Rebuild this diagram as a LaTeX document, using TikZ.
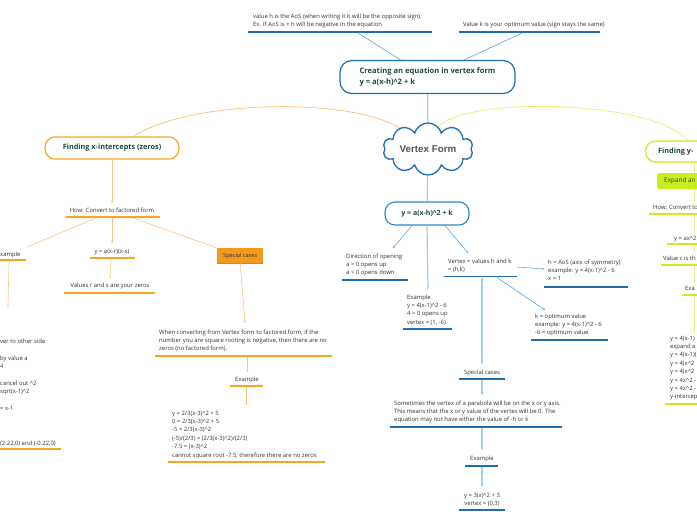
\documentclass[tikz,border=0pt]{standalone}
\usepackage{fontspec}
\setmainfont{Open Sans}
\newfontfamily\arialfont{Liberation Sans}
\usetikzlibrary{shapes.symbols,arrows.meta}
\newcommand\mycaret{\textasciicircum}
\definecolor{bl}{HTML}{1F6EB4}
\definecolor{blm}{HTML}{2E86C8}
\definecolor{blc}{HTML}{5BA8DA}
\definecolor{blv}{HTML}{A3CFEC}
\definecolor{orl}{HTML}{F6A623}
\definecolor{orc}{HTML}{F9C77E}
\definecolor{orf}{HTML}{F39A1E}
\definecolor{ord}{HTML}{E0840A}
\definecolor{lm}{HTML}{C8EE1E}
\definecolor{lmc}{HTML}{E2F37C}
\definecolor{tgreen}{HTML}{1E4B3B}
\definecolor{tgray}{HTML}{333333}
\definecolor{tvf}{HTML}{555555}
\begin{document}
\begin{tikzpicture}[x=1pt,y=-1pt,
  txt/.style={font=\fontsize{5.9}{8.4}\selectfont, text=tgray, align=left, inner sep=0pt, anchor=base west},
  ctxt/.style={txt, align=center, anchor=base},
  uline/.style={line width=1.6pt},
  link/.style={line width=0.6pt},
  conn/.style={line width=0.6pt, -{Stealth[length=2pt,width=2pt]}},
  vconn/.style={line width=1.2pt, blv},
  title/.style={draw, line width=1.2pt, fill=white, text=tgreen, font=\bfseries\fontsize{7.3}{8}\selectfont, inner sep=0pt},
]
\useasboundingbox (0,0) rectangle (697,520);
\fill[white] (0,0) rectangle (697,520);

% ---------- main curves
\coordinate (fxT) at (133,137);
\coordinate (vfL) at (405,132);
\coordinate (vfR) at (437,128);
\coordinate (fyT) at (688,141);
\draw[orc, line width=0.8pt] (fxT) .. controls (185,100) and (360,95) .. (vfL);
\draw[lmc, line width=0.8pt] (vfR) .. controls (465,95) and (655,100) .. (fyT);

% ---------- top
\node[title, draw=bl, minimum width=175pt, minimum height=33pt, rounded corners=12pt, align=left,
      font=\bfseries\fontsize{7.6}{11.5}\selectfont] (cen) at (427.5,77)
      {Creating an equation in vertex form\\y = a(x-h)\mycaret 2 + k};
\node[txt] (tl) at (253,26.9) {value h is the AoS (when writing it it will be the opposite sign).\\Ex. If AoS is + h will be negative in the equation};
\draw[uline, bl] (248,32) -- (432,32);
\coordinate (tlU) at (358,33);
\node[txt] (tr) at (463,26) {Value k is your optimum value (sign stays the same)};
\draw[uline, bl] (459,32) -- (600,32);
\coordinate (trU) at (522,33);
\draw[link, blc] (tlU) -- (cen);
\draw[link, blc] (trU) -- (cen);

% ---------- cloud
\node[cloud, draw=bl, line width=1.3pt, fill=white, cloud puffs=10, aspect=2.3,
      minimum width=90pt, minimum height=40pt, inner sep=0pt,
      font=\arialfont\bfseries\fontsize{9.8}{10}\selectfont, text=tvf] (vf) at (428,149) {Vertex Form};
\draw[vconn] (cen) -- (vf);

% ---------- y = a(x-h)^2 + k
\node[title, draw=blm, line width=1.1pt, minimum width=84pt, minimum height=23pt, rounded corners=10pt,
      font=\bfseries\fontsize{7}{8}\selectfont] (yvx) at (427,213.5) {y = a(x-h)\mycaret 2 + k};
\draw[vconn] (vf) -- (yvx);

\coordinate (dirT) at (393,248);
\coordinate (exT) at (428,289);
\coordinate (vtT) at (468,253);
\draw[conn, blc] ([xshift=-15pt]yvx.south) -- (dirT);
\draw[vconn, -{Stealth[length=2pt,width=2pt]}] (yvx.south) -- (exT);
\draw[conn, blc] ([xshift=18pt]yvx.south) -- (vtT);

\node[txt] (dir) at (346,274.8) {Direction of opening\\a > 0 opens up\\a < 0 opens down};
\draw[uline, bl] (342,280) -- (408,280);
\node[txt] (ex1) at (407,324.2) {Example\\y = 4(x-1)\mycaret 2 - 6\\4 > 0 opens up\\vertex = (1, -6)};
\draw[uline, bl] (403,329) -- (452,329);
\node[txt] (vt) at (448,271.4) {Vertex = values h and k\\= (h,k)};
\draw[uline, bl] (444,276.5) -- (517,276.5);
\coordinate (vtR) at (517,267);
\coordinate (vtU1) at (497,277.5);
\coordinate (vtU2) at (482,277.5);
\coordinate (hT) at (544,269);
\coordinate (kT) at (545,310);
\coordinate (sc2T) at (482,364);
\draw[conn, blc] (vtR) -- (hT);
\draw[conn, blc] (vtU1) -- (kT);
\draw[vconn, -{Stealth[length=2pt,width=2pt]}] (vtU2) -- (sc2T);

\node[txt] (h) at (548,280.8) {h = AoS (axis of symmetry)\\example: y = 4(x-1)\mycaret 2 - 6\\x = 1};
\draw[uline, bl] (544,287) -- (628,287);
\node[txt] (k) at (535,334.8) {k = optimum value\\example: y = 4(x-1)\mycaret 2 - 6\\-6 = optimum value};
\draw[uline, bl] (531,340) -- (608,340);

\node[ctxt] (sc2) at (482,374) {Special cases};
\draw[uline, bl] (459,379) -- (505,379);
\coordinate (sc2U) at (482,380);
\coordinate (stT) at (482,395);
\draw[vconn, -{Stealth[length=2pt,width=2pt]}] (sc2U) -- (stT);
\node[txt] (st) at (394,421.8) {Sometimes the vertex of a parabola will be on the x or y axis.\\This means that the x or y value of the vertex will be 0. The\\equation may not have either the value of -h or k};
\draw[uline, bl] (390,427) -- (562,427);
\coordinate (stU) at (482,428);
\coordinate (ex2T) at (482,450);
\draw[vconn, -{Stealth[length=2pt,width=2pt]}] (stU) -- (ex2T);
\node[ctxt] (ex2) at (482,460) {Example};
\draw[uline, bl] (465,466) -- (498,466);
\coordinate (ex2U) at (482,467);
\coordinate (ex3T) at (482,487);
\draw[vconn, -{Stealth[length=2pt,width=2pt]}] (ex2U) -- (ex3T);
\node[ctxt] (ex3) at (482,505.4) {y = 3(x)\mycaret 2 + 3\\vertex = (0,3)};
\draw[uline, bl] (459,510) -- (505,510);

% ---------- orange branch
\node[title, draw=orl, minimum width=134pt, minimum height=22pt, rounded corners=10pt] (fx) at (112,148) {Finding x-intercepts (zeros)};
\coordinate (howT) at (112,203);
\draw[conn, orc] (fx) -- (howT);
\node[ctxt] (how) at (112,212) {How: Convert to factored form};
\draw[uline, orl] (66,217) -- (160,217);
\coordinate (howL) at (96,218);
\coordinate (howM) at (112,218);
\coordinate (howR) at (133,218);
\coordinate (exLT) at (27,247);
\coordinate (yarT) at (112,243);
\draw[link, orc] (howL) -- (exLT);
\draw[conn, orc] (howM) -- (yarT);

\node[fill=orf, minimum width=46pt, minimum height=15pt, inner sep=0pt, anchor=north west,
      font=\fontsize{5.6}{6}\selectfont, text=tgray] (sc1) at (217,248) {Special cases};
\draw[ord, line width=1.2pt] (sc1.south west) -- (sc1.south east);
\draw[link, orc] (howR) -- (sc1.north west);

\node[txt, anchor=base west] (exL) at (0,256) {xample};
\draw[uline, orl] (0,260) -- (26,260);
\node[ctxt] (yar) at (112,253) {y = a(x-r)(x-s)};
\draw[uline, orl] (90,258) -- (135,258);
\coordinate (yarU) at (111,259);
\coordinate (valT) at (110,278);
\draw[conn, orc] (yarU) -- (valT);
\node[ctxt] (val) at (110,287) {Values r and s are your zeros};
\draw[uline, orl] (64,293) -- (155,293);

\coordinate (exLU) at (9,261);
\coordinate (exLbT) at (8,307);
\draw[conn, orc] (exLU) -- (exLbT);
\node[txt] (l1) at (0,343) {ver to other side};
\node[txt] (l2) at (0,360) {by value a};
\node[txt] (l3) at (0,368) {4};
\node[txt] (l4) at (0,385) {cancel out \mycaret 2};
\node[txt] (l5) at (0,393) {sqrt(x-1)\mycaret 2};
\node[txt] (l6) at (0,410) {= x-1};
\node[txt] (l7) at (0,445) {(2.22,0) and (-0.22,0)};
\draw[uline, orl] (0,449) -- (61,449);

\coordinate (cvT) at (245,323);
\draw[conn, orc] (sc1.south) -- (cvT);
\node[txt] (cv) at (159,350.8) {When converting from Vertex form to factored form, if the\\number you are square rooting is negative, then there are no\\zeros (no factored form).};
\draw[uline, orl] (155,356) -- (332,356);
\coordinate (cvU) at (247,357);
\coordinate (ex4T) at (247,372);
\draw[conn, orc] (cvU) -- (ex4T);
\node[ctxt] (ex4) at (247,381) {Example};
\draw[uline, orl] (230,386) -- (263,386);
\coordinate (ex4U) at (246,387);
\coordinate (ex5T) at (246,405);
\draw[conn, orc] (ex4U) -- (ex5T);
\node[txt] (ex5) at (172,457) {y = 2/3(x-3)\mycaret 2 + 5\\0 = 2/3(x-3)\mycaret 2 + 5\\-5 = 2/3(x-3)\mycaret 2\\(-5)/(2/3) = (2/3(x-3)\mycaret 2)/(2/3)\\-7.5 = (x-3)\mycaret 2\\cannot square root -7.5, therefore there are no zeros};
\draw[uline, orl] (168,462) -- (325,462);

% ---------- lime branch (cut at right edge)
\node[title, draw=lm, minimum width=130pt, minimum height=21pt, rounded corners=10pt, anchor=west] (fy) at (645,151.5) {};
\node[anchor=west, inner sep=0pt, text=tgreen, font=\bfseries\fontsize{7.3}{8}\selectfont] (fyt) at (658,152) {Finding y-};
\node[fill=lm, rounded corners=2pt, minimum width=110pt, minimum height=16pt, inner sep=0pt, anchor=north west] (exb) at (657,173) {};
\node[anchor=west, inner sep=0pt, text=tgray, font=\fontsize{6.4}{7}\selectfont] (exbt) at (664,181) {Expand an};
\coordinate (fyB) at (694,162);
\coordinate (exbT) at (694,173);
\draw[link, lmc] (fyB) -- (exbT);
\coordinate (exbB) at (694,189);
\coordinate (how2T) at (694,201);
\draw[link, lmc] (exbB) -- (how2T);
\node[txt] (how2) at (653,209) {How: Convert to};
\draw[uline, lm] (649,214) -- (697,214);
\coordinate (how2U) at (694,215);
\coordinate (axT) at (694,232);
\draw[link, lmc] (how2U) -- (axT);
\node[txt] (ax) at (674,240) {y = ax\mycaret 2};
\draw[uline, lm] (667,244) -- (697,244);
\coordinate (axU) at (694,245);
\coordinate (vcT) at (694,252);
\draw[link, lmc] (axU) -- (vcT);
\node[txt] (vc) at (663,260) {Value c is th};
\draw[uline, lm] (661,265) -- (697,265);
\coordinate (vcU) at (694,266);
\coordinate (exrT) at (694,282);
\draw[link, lmc] (vcU) -- (exrT);
\node[txt] (exr) at (685,290) {Exa};
\draw[uline, lm] (682,295) -- (697,295);
\coordinate (exrU) at (694,296);
\coordinate (exr2T) at (694,332);
\draw[link, lmc] (exrU) -- (exr2T);
\node[txt] (exr2) at (670,398.8) {y = 4(x-1)\\expand a\\y = 4(x-1)(\\y = 4(x\mycaret 2\\y = 4(x\mycaret 2\\y = 4x\mycaret 2 -\\y = 4x\mycaret 2 -\\y-intercep};
\draw[uline, lm] (665,404) -- (697,404);
\end{tikzpicture}
\end{document}
